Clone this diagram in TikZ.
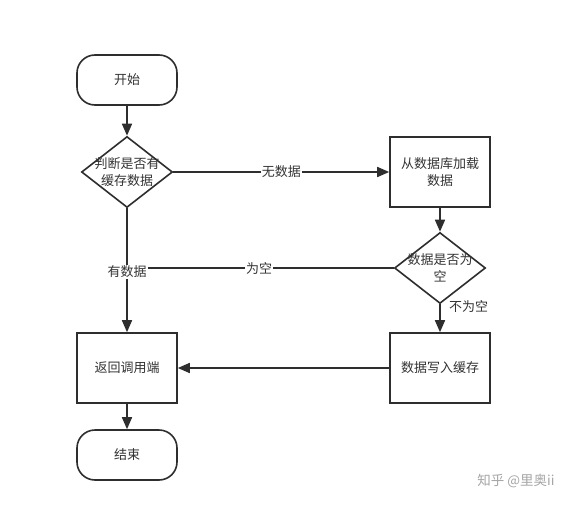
\documentclass[tikz,border=0pt]{standalone}
\usepackage{fontspec}
\newfontfamily\cjk{Noto Sans CJK SC}
\usetikzlibrary{arrows.meta,shapes.geometric}
\definecolor{ln}{HTML}{2E2E2E}
\definecolor{tx}{HTML}{333333}
\tikzset{
  base/.style={draw=ln, line width=1.6pt, font=\cjk\fontsize{13}{17}\selectfont, text=tx, align=center, inner sep=0pt},
  term/.style={base, rectangle, rounded corners=18pt, minimum width=100pt, minimum height=50pt},
  proc/.style={base, rectangle, minimum width=100pt, minimum height=70pt},
  dec/.style={base, diamond, minimum width=91pt, minimum height=71pt, aspect=1.28},
  dectext/.style={font=\cjk\fontsize{13}{17}\selectfont, text=tx, align=center, inner sep=0pt},
  conn/.style={draw=ln, line width=1.6pt, -{Triangle[length=12pt,width=10pt]}},
  plain/.style={draw=ln, line width=1.6pt},
  lab/.style={font=\cjk\fontsize{13}{15}\selectfont, text=tx, fill=white, inner sep=1pt},
  wm/.style={font=\cjk\fontsize{13.5}{15}\selectfont, text=black!35}
}
\begin{document}
\begin{tikzpicture}[x=1pt,y=-1pt]
\useasboundingbox[fill=white] (0,0) rectangle (586,506);
\node[term] (start) at (127,80) {开始};
\node[dec, label={[dectext]center:判断是否有\\缓存数据}] (d1) at (127,172) {};
\node[proc] (load) at (440,172) {从数据库加载\\数据};
\node[dec, label={[dectext]center:数据是否为\\空}] (d2) at (440,268) {};
\node[proc] (write) at (440,368) {数据写入缓存};
\node[proc] (ret) at (127,368) {返回调用端};
\node[term] (end) at (127,455) {结束};
\coordinate (j) at (127,268);

\draw[conn] (start) -- (d1);
\draw[conn] (d1) -- node[lab] {无数据} (load);
\draw[conn] (load) -- (d2);
\draw[conn] (d2) -- (write);
\node[lab, fill=none, anchor=west] at (448,307) {不为空};
\draw[conn] (write) -- (ret);
\draw[conn] (d1) -- (ret);
\draw[plain] (d2.west) -- node[lab, pos=0.505] {为空} (j);
\node[lab] at (127,272) {有数据};
\draw[conn] (ret) -- (end);
\node[wm] at (516,481) {知乎 @里奥ii};
\end{tikzpicture}
\end{document}
